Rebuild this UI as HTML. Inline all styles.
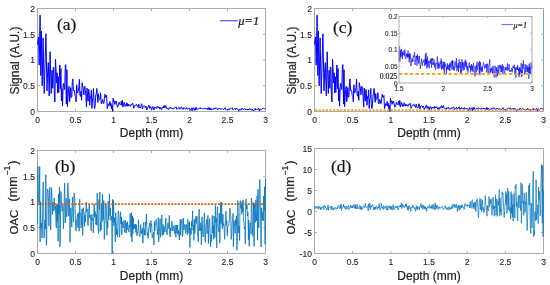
<!DOCTYPE html>
<html><head><meta charset="utf-8"><style>
html,body{margin:0;padding:0;background:#fff;}
body{width:550px;height:285px;overflow:hidden;}
svg{display:block;}
text{font-family:"Liberation Sans",Arial,sans-serif;fill:#222;stroke:#222;stroke-width:0.2px;}
text.serif{font-family:"Liberation Serif","Times New Roman",serif;}
text.pl{fill:#111;}
text.sm{stroke-width:0.1px;}
text.tk{stroke-width:0.1px;}
</style></head><body>
<svg width="550" height="285" viewBox="0 0 550 285">
<rect width="550" height="285" fill="#fff"/>
<path d="M37.5,111.5H265.5M37.5,8.5H265.5M37.5,8.5V111.5" stroke="#ababab" stroke-width="1" fill="none"/>
<path d="M265.5,8.5V111.5" stroke="#ababab" stroke-width="1" fill="none"/>
<path d="M37.50,111.5v-2.5M37.50,8.5v2.5M75.50,111.5v-2.5M75.50,8.5v2.5M113.50,111.5v-2.5M113.50,8.5v2.5M151.50,111.5v-2.5M151.50,8.5v2.5M189.50,111.5v-2.5M189.50,8.5v2.5M227.50,111.5v-2.5M227.50,8.5v2.5M265.50,111.5v-2.5M265.50,8.5v2.5M37.5,111.50h2.5M265.5,111.50h-2.5M37.5,85.75h2.5M265.5,85.75h-2.5M37.5,60.00h2.5M265.5,60.00h-2.5M37.5,34.25h2.5M265.5,34.25h-2.5M37.5,8.50h2.5M265.5,8.50h-2.5" stroke="#ababab" stroke-width="1" fill="none"/>
<text x="37.50" y="122.70" text-anchor="middle" font-size="8.5" class="tk">0</text>
<text x="75.50" y="122.70" text-anchor="middle" font-size="8.5" class="tk">0.5</text>
<text x="113.50" y="122.70" text-anchor="middle" font-size="8.5" class="tk">1</text>
<text x="151.50" y="122.70" text-anchor="middle" font-size="8.5" class="tk">1.5</text>
<text x="189.50" y="122.70" text-anchor="middle" font-size="8.5" class="tk">2</text>
<text x="227.50" y="122.70" text-anchor="middle" font-size="8.5" class="tk">2.5</text>
<text x="265.50" y="122.70" text-anchor="middle" font-size="8.5" class="tk">3</text>
<text x="34.90" y="114.90" text-anchor="end" font-size="8.5" class="tk">0</text>
<text x="34.90" y="89.15" text-anchor="end" font-size="8.5" class="tk">0.5</text>
<text x="34.90" y="63.40" text-anchor="end" font-size="8.5" class="tk">1</text>
<text x="34.90" y="37.65" text-anchor="end" font-size="8.5" class="tk">1.5</text>
<text x="34.90" y="11.90" text-anchor="end" font-size="8.5" class="tk">2</text>
<polyline points="37.5,44.5 38.5,36.8 39.2,65.2 40.1,15.2 40.8,75.5 41.4,31.2 42.2,85.8 43.1,37.9 44.2,93.5 45.0,65.2 45.9,33.7 47.0,90.9 47.6,72.9 48.3,62.6 49.2,96.0 50.1,51.8 51.2,93.5 52.0,70.3 52.8,88.3 53.3,67.2 53.8,67.3 54.4,95.3 54.9,101.9 55.5,59.0 56.0,69.3 56.5,82.9 57.1,72.8 57.6,93.1 58.2,76.7 58.7,92.4 59.3,78.5 59.8,65.0 60.4,88.6 60.9,68.5 61.4,100.8 62.0,88.5 62.5,106.0 63.1,86.0 63.6,83.4 64.2,88.2 64.7,89.5 65.3,65.2 65.8,64.6 66.3,104.1 66.9,69.7 67.4,106.6 68.0,97.3 68.5,89.8 69.1,86.3 69.6,101.7 70.1,97.6 70.7,87.6 71.2,97.4 71.8,96.9 72.3,81.5 72.9,78.9 73.4,90.6 74.0,90.0 74.5,90.7 75.0,95.5 75.6,96.3 76.1,101.8 76.7,84.8 77.2,92.4 77.8,93.1 78.3,90.1 78.9,87.2 79.4,79.3 79.9,95.0 80.5,96.3 81.0,91.2 81.6,100.3 82.1,82.7 82.7,86.0 83.2,88.1 83.8,94.8 84.3,88.3 84.8,86.2 85.4,90.6 85.9,96.7 86.5,107.1 87.0,88.1 87.6,97.6 88.1,101.2 88.7,89.3 89.2,93.3 89.7,105.3 90.3,96.6 90.8,97.8 91.4,89.9 91.9,108.4 92.5,99.0 93.0,97.6 93.5,88.4 94.1,103.5 94.6,108.6 95.2,105.3 95.7,96.1 96.3,93.2 96.8,88.4 97.4,95.9 97.9,102.4 98.4,93.7 99.0,98.5 99.5,99.6 100.1,98.7 100.6,92.7 101.2,103.3 101.7,104.0 102.3,99.6 102.8,99.7 103.3,103.2 103.9,103.6 104.4,98.2 105.0,94.2 105.5,97.1 106.1,97.4 106.6,95.4 107.2,108.5 107.7,106.7 108.2,103.7 108.8,105.6 109.3,105.0 109.9,101.4 110.4,106.2 111.0,103.4 111.5,108.8 112.0,105.4 112.6,111.5 113.1,98.1 113.7,101.8 114.2,100.8 114.8,104.4 115.3,101.4 115.9,102.5 116.4,101.2 116.9,105.0 117.5,107.3 118.0,106.2 118.6,105.0 119.1,102.2 119.7,104.2 120.2,104.8 120.8,104.3 121.3,101.1 121.8,105.4 122.4,100.3 122.9,107.1 123.5,105.6 124.0,102.3 124.6,103.1 125.1,106.4 125.7,104.7 126.2,106.2 126.7,102.7 127.3,103.5 127.8,106.3 128.4,104.0 128.9,105.7 129.5,105.1 130.0,104.9 130.6,106.3 131.1,104.3 131.6,104.3 132.2,104.4 132.7,103.2 133.3,105.9 133.8,108.3 134.4,106.4 134.9,105.2 135.4,105.6 136.0,104.6 136.5,104.3 137.1,106.0 137.6,106.0 138.2,107.6 138.7,104.2 139.3,106.5 139.8,107.9 140.3,108.0 140.9,106.9 141.4,103.7 142.0,105.0 142.5,109.0 143.1,106.6 143.6,106.0 144.2,105.5 144.7,106.0 145.2,107.5 145.8,106.0 146.3,107.5 146.9,110.0 147.4,107.8 148.0,107.8 148.5,105.4 149.1,105.3 149.6,108.3 150.1,106.5 150.7,106.7 151.2,108.8 151.8,109.7 152.3,107.0 152.9,106.6 153.4,107.7 153.9,110.1 154.5,106.9 155.0,107.7 155.6,108.1 156.1,107.4 156.7,108.5 157.2,106.3 157.8,107.0 158.3,107.9 158.8,106.8 159.4,107.2 159.9,109.2 160.5,107.5 161.0,107.9 161.6,109.6 162.1,108.2 162.7,106.9 163.2,108.2 163.7,105.8 164.3,105.5 164.8,107.9 165.4,106.9 165.9,105.5 166.5,108.1 167.0,108.8 167.6,108.3 168.1,109.4 168.6,109.4 169.2,107.6 169.7,108.4 170.3,107.7 170.8,107.4 171.4,108.8 171.9,108.2 172.4,108.3 173.0,108.8 173.5,109.0 174.1,107.7 174.6,108.2 175.2,107.8 175.7,107.1 176.3,107.1 176.8,109.4 177.3,109.1 177.9,108.5 178.4,108.1 179.0,107.3 179.5,109.3 180.1,108.7 180.6,108.0 181.2,107.0 181.7,106.9 182.2,109.4 182.8,108.6 183.3,109.2 183.9,107.5 184.4,108.0 185.0,108.8 185.5,109.1 186.1,108.2 186.6,107.5 187.1,109.3 187.7,108.8 188.2,108.4 188.8,108.5 189.3,108.2 189.9,109.5 190.4,109.2 191.0,110.6 191.5,108.6 192.0,107.6 192.6,110.6 193.1,109.2 193.7,107.8 194.2,108.8 194.8,110.5 195.3,107.6 195.8,110.0 196.4,107.4 196.9,109.3 197.5,109.4 198.0,108.7 198.6,108.8 199.1,108.2 199.7,108.3 200.2,108.9 200.7,107.6 201.3,108.1 201.8,108.5 202.4,108.7 202.9,108.9 203.5,108.9 204.0,108.2 204.6,108.4 205.1,108.8 205.6,107.9 206.2,109.1 206.7,108.5 207.3,108.1 207.8,109.9 208.4,109.2 208.9,107.4 209.5,109.8 210.0,107.9 210.5,109.9 211.1,108.6 211.6,109.9 212.2,109.5 212.7,109.3 213.3,109.5 213.8,108.1 214.3,108.3 214.9,108.3 215.4,108.9 216.0,107.6 216.5,108.2 217.1,108.8 217.6,110.0 218.2,108.5 218.7,108.5 219.2,109.0 219.8,108.5 220.3,108.5 220.9,109.4 221.4,108.7 222.0,108.9 222.5,108.9 223.1,109.5 223.6,109.6 224.1,109.1 224.7,108.0 225.2,107.7 225.8,109.5 226.3,110.1 226.9,109.5 227.4,109.9 228.0,109.6 228.5,108.9 229.0,110.0 229.6,108.8 230.1,108.6 230.7,108.0 231.2,107.8 231.8,108.5 232.3,107.8 232.9,109.7 233.4,109.1 233.9,109.2 234.5,109.0 235.0,108.5 235.6,109.6 236.1,108.0 236.7,108.3 237.2,109.1 237.7,109.0 238.3,110.1 238.8,111.1 239.4,109.4 239.9,109.1 240.5,109.2 241.0,110.3 241.6,109.7 242.1,108.0 242.6,108.8 243.2,108.9 243.7,109.7 244.3,108.8 244.8,108.4 245.4,108.8 245.9,109.8 246.5,109.2 247.0,110.1 247.5,109.7 248.1,109.0 248.6,109.9 249.2,109.6 249.7,108.4 250.3,109.6 250.8,108.9 251.4,109.7 251.9,110.4 252.4,109.5 253.0,109.8 253.5,111.0 254.1,110.4 254.6,109.8 255.2,108.4 255.7,110.0 256.2,109.6 256.8,109.1 257.3,109.3 257.9,109.8 258.4,108.3 259.0,108.6 259.5,111.1 260.1,108.9 260.6,109.2 261.1,108.9 261.7,109.5 262.2,109.0 262.8,108.3 263.3,108.3 263.9,108.3 264.4,108.8 265.0,108.9 265.5,108.9" fill="none" stroke="#0000ff" stroke-width="1.0" stroke-linejoin="round" />
<path d="M37.5,253.5H265.5M37.5,150.5H265.5M37.5,150.5V253.5" stroke="#ababab" stroke-width="1" fill="none"/>
<path d="M265.5,150.5V253.5" stroke="#ababab" stroke-width="1" fill="none"/>
<path d="M37.50,253.5v-2.5M37.50,150.5v2.5M75.50,253.5v-2.5M75.50,150.5v2.5M113.50,253.5v-2.5M113.50,150.5v2.5M151.50,253.5v-2.5M151.50,150.5v2.5M189.50,253.5v-2.5M189.50,150.5v2.5M227.50,253.5v-2.5M227.50,150.5v2.5M265.50,253.5v-2.5M265.50,150.5v2.5M37.5,253.50h2.5M265.5,253.50h-2.5M37.5,227.75h2.5M265.5,227.75h-2.5M37.5,202.00h2.5M265.5,202.00h-2.5M37.5,176.25h2.5M265.5,176.25h-2.5M37.5,150.50h2.5M265.5,150.50h-2.5" stroke="#ababab" stroke-width="1" fill="none"/>
<text x="37.50" y="264.70" text-anchor="middle" font-size="8.5" class="tk">0</text>
<text x="75.50" y="264.70" text-anchor="middle" font-size="8.5" class="tk">0.5</text>
<text x="113.50" y="264.70" text-anchor="middle" font-size="8.5" class="tk">1</text>
<text x="151.50" y="264.70" text-anchor="middle" font-size="8.5" class="tk">1.5</text>
<text x="189.50" y="264.70" text-anchor="middle" font-size="8.5" class="tk">2</text>
<text x="227.50" y="264.70" text-anchor="middle" font-size="8.5" class="tk">2.5</text>
<text x="265.50" y="264.70" text-anchor="middle" font-size="8.5" class="tk">3</text>
<text x="34.90" y="256.90" text-anchor="end" font-size="8.5" class="tk">0</text>
<text x="34.90" y="231.15" text-anchor="end" font-size="8.5" class="tk">0.5</text>
<text x="34.90" y="205.40" text-anchor="end" font-size="8.5" class="tk">1</text>
<text x="34.90" y="179.65" text-anchor="end" font-size="8.5" class="tk">1.5</text>
<text x="34.90" y="153.90" text-anchor="end" font-size="8.5" class="tk">2</text>
<polyline points="37.5,223.7 37.9,166.3 38.4,200.6 38.8,199.3 39.3,203.1 39.7,166.5 40.1,241.9 40.6,201.8 41.0,227.8 41.5,223.0 41.9,238.0 42.3,235.7 42.8,196.9 43.2,181.9 43.7,209.0 44.1,238.1 44.5,227.1 45.0,219.8 45.4,229.1 45.8,174.7 46.3,245.3 46.7,243.2 47.2,193.7 47.6,189.1 48.0,190.3 48.5,201.2 48.9,225.9 49.4,194.8 49.8,187.1 50.2,205.6 50.7,229.8 51.1,204.0 51.6,187.7 52.0,198.7 52.4,214.5 52.9,202.2 53.3,211.0 53.8,208.4 54.2,198.0 54.6,206.1 55.1,210.6 55.5,205.8 56.0,225.0 56.4,227.9 56.8,204.7 57.3,221.7 57.7,203.8 58.1,241.2 58.6,194.1 59.0,214.3 59.5,187.1 59.9,246.9 60.3,238.8 60.8,191.5 61.2,192.2 61.7,208.5 62.1,211.3 62.5,210.8 63.0,205.2 63.4,228.7 63.9,216.0 64.3,194.0 64.7,182.9 65.2,223.0 65.6,212.3 66.1,198.2 66.5,216.9 66.9,216.6 67.4,206.8 67.8,182.9 68.3,192.4 68.7,216.2 69.1,209.2 69.6,199.1 70.0,242.3 70.4,212.4 70.9,207.9 71.3,215.9 71.8,227.1 72.2,206.4 72.6,197.1 73.1,216.4 73.5,222.2 74.0,193.2 74.4,194.0 74.8,199.1 75.3,215.3 75.7,229.5 76.2,231.1 76.6,219.9 77.0,219.9 77.5,213.9 77.9,227.8 78.4,218.1 78.8,212.4 79.2,231.2 79.7,199.3 80.1,212.5 80.6,212.9 81.0,227.9 81.4,225.6 81.9,208.9 82.3,209.9 82.7,235.6 83.2,207.7 83.6,211.2 84.1,212.1 84.5,226.3 84.9,215.1 85.4,222.1 85.8,212.5 86.3,202.0 86.7,211.9 87.1,208.8 87.6,219.7 88.0,225.5 88.5,217.0 88.9,208.6 89.3,205.0 89.8,217.6 90.2,215.0 90.7,220.4 91.1,231.2 91.5,216.4 92.0,214.2 92.4,220.5 92.9,218.5 93.3,232.8 93.7,216.5 94.2,204.3 94.6,217.2 95.0,211.2 95.5,212.5 95.9,224.4 96.4,214.5 96.8,225.3 97.2,193.3 97.7,214.2 98.1,228.7 98.6,233.7 99.0,199.4 99.4,209.3 99.9,192.2 100.3,231.5 100.8,222.4 101.2,229.7 101.6,203.5 102.1,221.8 102.5,194.1 103.0,209.9 103.4,219.4 103.8,200.5 104.3,239.3 104.7,225.0 105.2,220.0 105.6,203.3 106.0,203.2 106.5,211.3 106.9,235.3 107.3,221.2 107.8,227.6 108.2,201.0 108.7,220.0 109.1,208.3 109.5,193.9 110.0,216.0 110.4,208.0 110.9,220.3 111.3,216.1 111.7,216.7 112.2,253.5 112.6,199.4 113.1,222.6 113.5,200.5 113.9,225.9 114.4,217.7 114.8,223.3 115.3,241.9 115.7,212.6 116.1,219.9 116.6,234.6 117.0,229.3 117.5,237.1 117.9,221.1 118.3,210.8 118.8,213.9 119.2,234.1 119.7,237.3 120.1,220.1 120.5,211.8 121.0,224.0 121.4,216.9 121.8,234.7 122.3,225.6 122.7,221.7 123.2,228.0 123.6,226.8 124.0,220.3 124.5,229.9 124.9,232.6 125.4,220.3 125.8,224.0 126.2,233.0 126.7,222.9 127.1,230.1 127.6,221.7 128.0,226.4 128.4,228.5 128.9,232.1 129.3,225.3 129.8,227.2 130.2,213.5 130.6,227.4 131.1,236.8 131.5,212.6 132.0,242.0 132.4,215.8 132.8,233.8 133.3,217.8 133.7,229.1 134.1,223.9 134.6,227.6 135.0,228.7 135.5,224.3 135.9,232.6 136.3,224.7 136.8,235.8 137.2,233.3 137.7,231.8 138.1,229.0 138.5,219.7 139.0,234.3 139.4,234.5 139.9,236.4 140.3,231.4 140.7,224.6 141.2,233.9 141.6,230.7 142.1,232.9 142.5,228.2 142.9,243.0 143.4,224.7 143.8,222.4 144.3,234.8 144.7,229.5 145.1,235.4 145.6,222.1 146.0,224.7 146.4,213.9 146.9,230.7 147.3,235.4 147.8,232.7 148.2,238.2 148.6,228.0 149.1,227.3 149.5,223.1 150.0,226.7 150.4,232.5 150.8,220.6 151.3,225.6 151.7,223.9 152.2,237.8 152.6,235.5 153.0,234.2 153.5,232.4 153.9,244.9 154.4,221.4 154.8,231.2 155.2,223.9 155.7,224.4 156.1,219.4 156.6,225.8 157.0,227.1 157.4,234.8 157.9,228.9 158.3,217.6 158.7,241.8 159.2,234.6 159.6,227.8 160.1,218.6 160.5,237.2 160.9,232.8 161.4,228.6 161.8,215.0 162.3,235.6 162.7,230.7 163.1,224.6 163.6,234.5 164.0,227.0 164.5,226.8 164.9,232.1 165.3,227.3 165.8,217.9 166.2,228.8 166.7,232.6 167.1,234.8 167.5,228.1 168.0,222.6 168.4,228.7 168.9,227.6 169.3,215.3 169.7,234.9 170.2,237.0 170.6,227.8 171.0,231.1 171.5,225.8 171.9,221.3 172.4,227.2 172.8,231.0 173.2,226.1 173.7,226.3 174.1,230.2 174.6,233.5 175.0,225.1 175.4,230.9 175.9,237.3 176.3,225.0 176.8,233.0 177.2,233.2 177.6,225.2 178.1,234.8 178.5,230.7 179.0,236.1 179.4,239.8 179.8,227.5 180.3,219.1 180.7,235.3 181.2,221.7 181.6,222.3 182.0,219.4 182.5,236.7 182.9,233.9 183.3,218.0 183.8,229.8 184.2,229.4 184.7,224.3 185.1,224.9 185.5,233.3 186.0,230.8 186.4,224.5 186.9,227.2 187.3,234.7 187.7,219.3 188.2,222.5 188.6,231.6 189.1,233.4 189.5,221.7 189.9,247.5 190.4,228.0 190.8,233.7 191.3,234.4 191.7,221.4 192.1,226.1 192.6,210.8 193.0,230.3 193.5,225.3 193.9,240.5 194.3,219.4 194.8,233.5 195.2,226.2 195.7,216.4 196.1,217.3 196.5,223.4 197.0,216.1 197.4,231.9 197.8,236.4 198.3,241.9 198.7,222.4 199.2,209.1 199.6,230.6 200.0,227.4 200.5,230.5 200.9,222.7 201.4,244.9 201.8,219.0 202.2,216.8 202.7,233.8 203.1,237.0 203.6,235.8 204.0,221.6 204.4,212.7 204.9,236.9 205.3,242.4 205.8,225.9 206.2,224.2 206.6,219.6 207.1,233.8 207.5,219.3 208.0,215.4 208.4,243.5 208.8,229.7 209.3,220.2 209.7,218.6 210.1,232.2 210.6,246.8 211.0,234.6 211.5,241.4 211.9,231.9 212.3,215.4 212.8,233.0 213.2,225.3 213.7,239.2 214.1,216.1 214.5,232.9 215.0,237.4 215.4,205.6 215.9,222.2 216.3,218.3 216.7,247.8 217.2,210.0 217.6,206.6 218.1,227.2 218.5,228.9 218.9,232.1 219.4,213.3 219.8,243.2 220.3,221.7 220.7,202.5 221.1,223.7 221.6,202.3 222.0,224.8 222.4,228.6 222.9,214.2 223.3,225.8 223.8,223.7 224.2,229.7 224.6,239.3 225.1,228.4 225.5,216.0 226.0,211.3 226.4,225.4 226.8,220.6 227.3,236.0 227.7,226.5 228.2,226.2 228.6,225.8 229.0,223.2 229.5,219.4 229.9,208.1 230.4,213.7 230.8,216.9 231.2,239.5 231.7,234.1 232.1,222.7 232.6,221.9 233.0,213.4 233.4,246.7 233.9,220.6 234.3,221.2 234.7,227.4 235.2,233.5 235.6,219.5 236.1,224.7 236.5,215.8 236.9,250.4 237.4,234.9 237.8,200.6 238.3,218.8 238.7,232.9 239.1,226.4 239.6,240.4 240.0,201.1 240.5,200.7 240.9,208.5 241.3,203.7 241.8,214.3 242.2,201.6 242.7,211.6 243.1,199.8 243.5,221.1 244.0,221.9 244.4,228.9 244.9,227.5 245.3,244.0 245.7,200.3 246.2,199.0 246.6,209.0 247.0,204.7 247.5,216.1 247.9,212.0 248.4,239.7 248.8,220.1 249.2,246.4 249.7,229.0 250.1,222.8 250.6,223.0 251.0,234.3 251.4,198.0 251.9,202.3 252.3,225.5 252.8,236.2 253.2,224.6 253.6,202.3 254.1,246.3 254.5,203.9 255.0,218.3 255.4,222.3 255.8,199.9 256.3,215.4 256.7,221.0 257.2,195.7 257.6,240.2 258.0,189.3 258.5,227.8 258.9,227.3 259.3,188.4 259.8,179.4 260.2,193.1 260.7,225.8 261.1,247.0 261.5,207.7 262.0,211.2 262.4,220.3 262.9,212.5 263.3,221.0 263.7,196.0 264.2,210.7 264.6,186.6 265.1,244.3 265.5,178.3" fill="none" stroke="#0072bd" stroke-width="0.8" stroke-linejoin="round" />
<line x1="38.0" x2="265.5" y1="204.2" y2="204.2" stroke="#c8601a" stroke-width="1.8" stroke-dasharray="2 1.33"/>
<path d="M314.5,111.5H543.5M314.5,8.5H543.5M314.5,8.5V111.5" stroke="#ababab" stroke-width="1" fill="none"/>
<path d="M543.5,8.5V111.5" stroke="#7f9fc0" stroke-width="1" fill="none"/>
<path d="M314.50,111.5v-2.5M314.50,8.5v2.5M352.67,111.5v-2.5M352.67,8.5v2.5M390.83,111.5v-2.5M390.83,8.5v2.5M429.00,111.5v-2.5M429.00,8.5v2.5M467.17,111.5v-2.5M467.17,8.5v2.5M505.33,111.5v-2.5M505.33,8.5v2.5M543.50,111.5v-2.5M543.50,8.5v2.5M314.5,111.50h2.5M543.5,111.50h-2.5M314.5,85.75h2.5M543.5,85.75h-2.5M314.5,60.00h2.5M543.5,60.00h-2.5M314.5,34.25h2.5M543.5,34.25h-2.5M314.5,8.50h2.5M543.5,8.50h-2.5" stroke="#ababab" stroke-width="1" fill="none"/>
<text x="314.50" y="122.70" text-anchor="middle" font-size="8.5" class="tk">0</text>
<text x="352.67" y="122.70" text-anchor="middle" font-size="8.5" class="tk">0.5</text>
<text x="390.83" y="122.70" text-anchor="middle" font-size="8.5" class="tk">1</text>
<text x="429.00" y="122.70" text-anchor="middle" font-size="8.5" class="tk">1.5</text>
<text x="467.17" y="122.70" text-anchor="middle" font-size="8.5" class="tk">2</text>
<text x="505.33" y="122.70" text-anchor="middle" font-size="8.5" class="tk">2.5</text>
<text x="543.50" y="122.70" text-anchor="middle" font-size="8.5" class="tk">3</text>
<text x="311.90" y="114.90" text-anchor="end" font-size="8.5" class="tk">0</text>
<text x="311.90" y="89.15" text-anchor="end" font-size="8.5" class="tk">0.5</text>
<text x="311.90" y="63.40" text-anchor="end" font-size="8.5" class="tk">1</text>
<text x="311.90" y="37.65" text-anchor="end" font-size="8.5" class="tk">1.5</text>
<text x="311.90" y="11.90" text-anchor="end" font-size="8.5" class="tk">2</text>
<polyline points="314.5,44.5 315.5,36.8 316.2,65.2 317.1,15.2 317.8,75.5 318.4,31.2 319.2,85.8 320.1,37.9 321.2,93.5 322.0,65.2 322.9,33.7 324.0,90.9 324.6,72.9 325.3,62.6 326.3,96.0 327.2,51.8 328.3,93.5 329.1,70.3 329.9,88.3 330.3,67.2 330.9,67.3 331.4,95.3 332.0,101.9 332.5,59.0 333.1,69.3 333.6,82.9 334.2,72.8 334.7,93.1 335.3,76.7 335.8,92.4 336.4,78.5 336.9,65.0 337.5,88.6 338.0,68.5 338.5,100.8 339.1,88.5 339.6,106.0 340.2,86.0 340.7,83.4 341.3,88.2 341.8,89.5 342.4,65.2 342.9,64.6 343.5,104.1 344.0,69.7 344.6,106.6 345.1,97.3 345.7,89.8 346.2,86.3 346.7,101.7 347.3,97.6 347.8,87.6 348.4,97.4 348.9,96.9 349.5,81.5 350.0,78.9 350.6,90.6 351.1,90.0 351.7,90.7 352.2,95.5 352.8,96.3 353.3,101.8 353.9,84.8 354.4,92.4 354.9,93.1 355.5,90.1 356.0,87.2 356.6,79.3 357.1,95.0 357.7,96.3 358.2,91.2 358.8,100.3 359.3,82.7 359.9,86.0 360.4,88.1 361.0,94.8 361.5,88.3 362.0,86.2 362.6,90.6 363.1,96.7 363.7,107.1 364.2,88.1 364.8,97.6 365.3,101.2 365.9,89.3 366.4,93.3 367.0,105.3 367.5,96.6 368.1,97.8 368.6,89.9 369.2,108.4 369.7,99.0 370.2,97.6 370.8,88.4 371.3,103.5 371.9,108.6 372.4,105.3 373.0,96.1 373.5,93.2 374.1,88.4 374.6,95.9 375.2,102.4 375.7,93.7 376.3,98.5 376.8,99.6 377.4,98.7 377.9,92.7 378.4,103.3 379.0,104.0 379.5,99.6 380.1,99.7 380.6,103.2 381.2,103.6 381.7,98.2 382.3,94.2 382.8,97.1 383.4,97.4 383.9,95.4 384.5,108.5 385.0,106.7 385.6,103.7 386.1,105.6 386.6,105.0 387.2,101.4 387.7,106.2 388.3,103.4 388.8,108.8 389.4,105.4 389.9,111.5 390.5,98.1 391.0,101.8 391.6,100.8 392.1,104.4 392.7,101.4 393.2,102.5 393.7,101.2 394.3,105.0 394.8,107.3 395.4,106.2 395.9,105.0 396.5,102.2 397.0,104.2 397.6,104.8 398.1,104.3 398.7,101.1 399.2,105.4 399.8,100.3 400.3,107.1 400.9,105.6 401.4,102.3 401.9,103.1 402.5,106.4 403.0,104.7 403.6,106.2 404.1,102.7 404.7,103.5 405.2,106.3 405.8,104.0 406.3,105.7 406.9,105.1 407.4,104.9 408.0,106.3 408.5,104.3 409.1,104.3 409.6,104.4 410.1,103.2 410.7,105.9 411.2,108.3 411.8,106.4 412.3,105.2 412.9,105.6 413.4,104.6 414.0,104.3 414.5,106.0 415.1,106.0 415.6,107.6 416.2,104.2 416.7,106.5 417.2,107.9 417.8,108.0 418.3,106.9 418.9,103.7 419.4,105.0 420.0,109.0 420.5,106.6 421.1,106.0 421.6,105.5 422.2,106.0 422.7,107.5 423.3,106.0 423.8,107.5 424.4,110.0 424.9,107.8 425.4,107.8 426.0,105.4 426.5,105.3 427.1,108.3 427.6,106.5 428.2,106.7 428.7,108.8 429.3,109.7 429.8,107.0 430.4,106.6 430.9,107.7 431.5,110.1 432.0,106.9 432.6,107.7 433.1,108.1 433.6,107.4 434.2,108.5 434.7,106.3 435.3,107.0 435.8,107.9 436.4,106.8 436.9,107.2 437.5,109.2 438.0,107.5 438.6,107.9 439.1,109.6 439.7,108.2 440.2,106.9 440.8,108.2 441.3,105.8 441.8,105.5 442.4,107.9 442.9,106.9 443.5,105.5 444.0,108.1 444.6,108.8 445.1,108.3 445.7,109.4 446.2,109.4 446.8,107.6 447.3,108.4 447.9,107.7 448.4,107.4 448.9,108.8 449.5,108.2 450.0,108.3 450.6,108.8 451.1,109.0 451.7,107.7 452.2,108.2 452.8,107.8 453.3,107.1 453.9,107.1 454.4,109.4 455.0,109.1 455.5,108.5 456.1,108.1 456.6,107.3 457.1,109.3 457.7,108.7 458.2,108.0 458.8,107.0 459.3,106.9 459.9,109.4 460.4,108.6 461.0,109.2 461.5,107.5 462.1,108.0 462.6,108.8 463.2,109.1 463.7,108.2 464.3,107.5 464.8,109.3 465.3,108.8 465.9,108.4 466.4,108.5 467.0,108.2 467.5,109.5 468.1,109.2 468.6,110.6 469.2,108.6 469.7,107.6 470.3,110.6 470.8,109.2 471.4,107.8 471.9,108.8 472.4,110.5 473.0,107.6 473.5,110.0 474.1,107.4 474.6,109.3 475.2,109.4 475.7,108.7 476.3,108.8 476.8,108.2 477.4,108.3 477.9,108.9 478.5,107.6 479.0,108.1 479.6,108.5 480.1,108.7 480.6,108.9 481.2,108.9 481.7,108.2 482.3,108.4 482.8,108.8 483.4,107.9 483.9,109.1 484.5,108.5 485.0,108.1 485.6,109.9 486.1,109.2 486.7,107.4 487.2,109.8 487.8,107.9 488.3,109.9 488.8,108.6 489.4,109.9 489.9,109.5 490.5,109.3 491.0,109.5 491.6,108.1 492.1,108.3 492.7,108.3 493.2,108.9 493.8,107.6 494.3,108.2 494.9,108.8 495.4,110.0 496.0,108.5 496.5,108.5 497.0,109.0 497.6,108.5 498.1,108.5 498.7,109.4 499.2,108.7 499.8,108.9 500.3,108.9 500.9,109.5 501.4,109.6 502.0,109.1 502.5,108.0 503.1,107.7 503.6,109.5 504.1,110.1 504.7,109.5 505.2,109.9 505.8,109.6 506.3,108.9 506.9,110.0 507.4,108.8 508.0,108.6 508.5,108.0 509.1,107.8 509.6,108.5 510.2,107.8 510.7,109.7 511.3,109.1 511.8,109.2 512.3,109.0 512.9,108.5 513.4,109.6 514.0,108.0 514.5,108.3 515.1,109.1 515.6,109.0 516.2,110.1 516.7,111.1 517.3,109.4 517.8,109.1 518.4,109.2 518.9,110.3 519.5,109.7 520.0,108.0 520.5,108.8 521.1,108.9 521.6,109.7 522.2,108.8 522.7,108.4 523.3,108.8 523.8,109.8 524.4,109.2 524.9,110.1 525.5,109.7 526.0,109.0 526.6,109.9 527.1,109.6 527.7,108.4 528.2,109.6 528.7,108.9 529.3,109.7 529.8,110.4 530.4,109.5 530.9,109.8 531.5,111.0 532.0,110.4 532.6,109.8 533.1,108.4 533.7,110.0 534.2,109.6 534.8,109.1 535.3,109.3 535.8,109.8 536.4,108.3 536.9,108.6 537.5,111.1 538.0,108.9 538.6,109.2 539.1,108.9 539.7,109.5 540.2,109.0 540.8,108.3 541.3,108.3 541.9,108.3 542.4,108.8 543.0,108.9 543.5,108.9" fill="none" stroke="#0000ff" stroke-width="1.0" stroke-linejoin="round" />
<line x1="315.0" x2="543.5" y1="110.1" y2="110.1" stroke="#f2a82e" stroke-width="1.8" stroke-dasharray="2.2 1.4"/>
<path d="M314.5,253.5H543.5M314.5,148.5H543.5M314.5,148.5V253.5" stroke="#ababab" stroke-width="1" fill="none"/>
<path d="M543.5,148.5V253.5" stroke="#ababab" stroke-width="1" fill="none"/>
<path d="M314.50,253.5v-2.5M314.50,148.5v2.5M352.67,253.5v-2.5M352.67,148.5v2.5M390.83,253.5v-2.5M390.83,148.5v2.5M429.00,253.5v-2.5M429.00,148.5v2.5M467.17,253.5v-2.5M467.17,148.5v2.5M505.33,253.5v-2.5M505.33,148.5v2.5M543.50,253.5v-2.5M543.50,148.5v2.5M314.5,253.50h2.5M543.5,253.50h-2.5M314.5,232.50h2.5M543.5,232.50h-2.5M314.5,211.50h2.5M543.5,211.50h-2.5M314.5,190.50h2.5M543.5,190.50h-2.5M314.5,169.50h2.5M543.5,169.50h-2.5M314.5,148.50h2.5M543.5,148.50h-2.5" stroke="#ababab" stroke-width="1" fill="none"/>
<text x="314.50" y="264.70" text-anchor="middle" font-size="8.5" class="tk">0</text>
<text x="352.67" y="264.70" text-anchor="middle" font-size="8.5" class="tk">0.5</text>
<text x="390.83" y="264.70" text-anchor="middle" font-size="8.5" class="tk">1</text>
<text x="429.00" y="264.70" text-anchor="middle" font-size="8.5" class="tk">1.5</text>
<text x="467.17" y="264.70" text-anchor="middle" font-size="8.5" class="tk">2</text>
<text x="505.33" y="264.70" text-anchor="middle" font-size="8.5" class="tk">2.5</text>
<text x="543.50" y="264.70" text-anchor="middle" font-size="8.5" class="tk">3</text>
<text x="311.90" y="256.90" text-anchor="end" font-size="8.5" class="tk">-10</text>
<text x="311.90" y="235.90" text-anchor="end" font-size="8.5" class="tk">-5</text>
<text x="311.90" y="214.90" text-anchor="end" font-size="8.5" class="tk">0</text>
<text x="311.90" y="193.90" text-anchor="end" font-size="8.5" class="tk">5</text>
<text x="311.90" y="172.90" text-anchor="end" font-size="8.5" class="tk">10</text>
<text x="311.90" y="151.90" text-anchor="end" font-size="8.5" class="tk">15</text>
<polyline points="314.5,206.9 314.9,206.1 315.3,207.9 315.7,208.7 316.1,206.4 316.5,207.6 317.0,207.0 317.4,206.5 317.8,207.0 318.2,209.3 318.6,206.3 319.0,207.9 319.4,207.5 319.8,206.5 320.2,209.4 320.6,207.6 321.1,209.9 321.5,208.0 321.9,206.7 322.3,207.4 322.7,207.6 323.1,206.3 323.5,207.8 323.9,209.7 324.3,205.6 324.7,206.9 325.2,206.1 325.6,207.9 326.0,207.9 326.4,208.4 326.8,210.2 327.2,208.0 327.6,208.2 328.0,204.9 328.4,210.2 328.8,207.3 329.2,207.6 329.7,207.5 330.1,207.6 330.5,207.0 330.9,206.1 331.3,209.9 331.7,206.1 332.1,207.8 332.5,208.9 332.9,210.2 333.3,210.2 333.8,207.5 334.2,209.1 334.6,209.1 335.0,208.2 335.4,207.4 335.8,208.1 336.2,209.2 336.6,208.4 337.0,207.7 337.4,209.0 337.9,206.0 338.3,205.4 338.7,205.4 339.1,207.9 339.5,207.9 339.9,208.8 340.3,205.2 340.7,208.1 341.1,204.0 341.5,210.5 341.9,207.0 342.4,206.6 342.8,207.3 343.2,206.4 343.6,204.3 344.0,207.4 344.4,206.1 344.8,208.0 345.2,209.3 345.6,209.0 346.0,206.0 346.5,206.8 346.9,209.5 347.3,206.8 347.7,206.4 348.1,206.5 348.5,205.5 348.9,209.5 349.3,208.7 349.7,208.9 350.1,207.0 350.6,205.2 351.0,207.9 351.4,206.7 351.8,205.9 352.2,208.0 352.6,206.0 353.0,207.4 353.4,204.5 353.8,205.1 354.2,207.9 354.6,208.1 355.1,204.3 355.5,208.6 355.9,205.4 356.3,207.8 356.7,209.0 357.1,204.5 357.5,206.5 357.9,208.8 358.3,207.6 358.7,208.3 359.2,208.7 359.6,207.4 360.0,205.5 360.4,209.4 360.8,206.4 361.2,209.5 361.6,207.3 362.0,209.5 362.4,209.3 362.8,208.3 363.2,205.7 363.7,205.9 364.1,207.4 364.5,207.7 364.9,207.0 365.3,203.1 365.7,206.7 366.1,207.4 366.5,208.0 366.9,207.7 367.3,206.3 367.8,206.3 368.2,211.0 368.6,203.9 369.0,206.5 369.4,207.4 369.8,203.1 370.2,209.7 370.6,209.2 371.0,205.5 371.4,207.2 371.9,205.8 372.3,205.3 372.7,204.3 373.1,206.2 373.5,208.2 373.9,209.9 374.3,207.0 374.7,210.0 375.1,207.1 375.5,208.5 375.9,206.6 376.4,206.1 376.8,207.3 377.2,209.4 377.6,207.0 378.0,208.4 378.4,206.7 378.8,207.9 379.2,203.5 379.6,208.1 380.0,210.3 380.5,208.7 380.9,207.1 381.3,203.0 381.7,205.0 382.1,208.2 382.5,207.2 382.9,209.1 383.3,209.6 383.7,205.7 384.1,206.5 384.6,208.4 385.0,208.4 385.4,206.5 385.8,206.1 386.2,208.5 386.6,210.0 387.0,205.8 387.4,208.4 387.8,210.2 388.2,207.5 388.6,206.9 389.1,205.7 389.5,207.9 389.9,206.8 390.3,209.3 390.7,206.4 391.1,209.7 391.5,206.2 391.9,206.9 392.3,209.7 392.7,208.2 393.2,204.5 393.6,208.9 394.0,209.9 394.4,207.7 394.8,206.9 395.2,205.9 395.6,207.4 396.0,208.0 396.4,207.6 396.8,205.9 397.3,207.5 397.7,206.3 398.1,210.1 398.5,207.8 398.9,207.3 399.3,205.5 399.7,206.4 400.1,206.8 400.5,205.4 400.9,206.9 401.3,202.9 401.8,208.7 402.2,207.0 402.6,204.2 403.0,205.9 403.4,206.7 403.8,205.5 404.2,207.9 404.6,207.0 405.0,206.9 405.4,204.0 405.9,206.6 406.3,203.7 406.7,207.2 407.1,206.7 407.5,209.9 407.9,206.1 408.3,210.4 408.7,206.0 409.1,205.5 409.5,206.5 410.0,208.9 410.4,207.6 410.8,211.4 411.2,208.3 411.6,206.8 412.0,207.1 412.4,207.8 412.8,205.0 413.2,206.6 413.6,207.2 414.0,206.8 414.5,208.9 414.9,207.5 415.3,210.4 415.7,211.4 416.1,207.8 416.5,205.7 416.9,209.0 417.3,206.5 417.7,210.1 418.1,207.2 418.6,207.2 419.0,207.2 419.4,209.6 419.8,206.3 420.2,206.0 420.6,206.3 421.0,203.4 421.4,207.8 421.8,206.8 422.2,205.1 422.7,209.4 423.1,208.7 423.5,205.3 423.9,207.7 424.3,208.5 424.7,206.3 425.1,209.4 425.5,206.9 425.9,208.9 426.3,208.2 426.7,211.4 427.2,206.8 427.6,206.7 428.0,207.4 428.4,208.2 428.8,206.7 429.2,204.7 429.6,205.7 430.0,208.3 430.4,206.7 430.8,207.5 431.3,206.2 431.7,208.5 432.1,204.6 432.5,208.4 432.9,208.8 433.3,206.5 433.7,204.3 434.1,209.9 434.5,207.0 434.9,206.0 435.3,202.8 435.8,209.6 436.2,205.2 436.6,208.3 437.0,207.6 437.4,205.5 437.8,207.0 438.2,209.4 438.6,207.4 439.0,207.7 439.4,206.8 439.9,208.7 440.3,208.3 440.7,207.7 441.1,207.1 441.5,207.4 441.9,206.4 442.3,206.0 442.7,206.6 443.1,208.2 443.5,209.7 444.0,208.6 444.4,208.3 444.8,207.6 445.2,205.6 445.6,207.3 446.0,208.8 446.4,209.5 446.8,207.4 447.2,207.6 447.6,209.1 448.0,210.1 448.5,207.8 448.9,206.5 449.3,206.8 449.7,209.9 450.1,208.0 450.5,207.6 450.9,209.0 451.3,207.4 451.7,208.4 452.1,205.5 452.6,208.5 453.0,204.1 453.4,205.2 453.8,206.4 454.2,206.6 454.6,204.3 455.0,207.7 455.4,206.2 455.8,207.4 456.2,204.0 456.7,207.7 457.1,207.5 457.5,211.8 457.9,206.0 458.3,207.7 458.7,205.2 459.1,210.4 459.5,207.8 459.9,205.3 460.3,209.2 460.7,207.2 461.2,205.2 461.6,208.0 462.0,204.9 462.4,204.9 462.8,207.4 463.2,207.5 463.6,207.2 464.0,209.5 464.4,209.1 464.8,203.6 465.3,205.7 465.7,205.9 466.1,205.4 466.5,205.5 466.9,204.5 467.3,206.9 467.7,205.3 468.1,205.9 468.5,205.1 468.9,206.0 469.4,205.2 469.8,207.9 470.2,201.5 470.6,205.3 471.0,208.3 471.4,205.0 471.8,200.8 472.2,199.7 472.6,200.8 473.0,208.6 473.4,203.4 473.9,206.8 474.3,202.2 474.7,208.8 475.1,209.6 475.5,202.3 475.9,211.4 476.3,203.7 476.7,199.8 477.1,199.6 477.5,199.2 478.0,210.0 478.4,217.8 478.8,212.4 479.2,201.4 479.6,201.3 480.0,198.5 480.4,209.7 480.8,200.3 481.2,199.1 481.6,211.7 482.1,205.6 482.5,200.3 482.9,210.2 483.3,207.4 483.7,212.6 484.1,212.4 484.5,212.1 484.9,205.7 485.3,195.4 485.7,204.4 486.1,205.3 486.6,210.5 487.0,216.2 487.4,205.7 487.8,210.1 488.2,210.6 488.6,211.0 489.0,196.4 489.4,206.9 489.8,205.5 490.2,199.5 490.7,203.3 491.1,198.8 491.5,202.4 491.9,215.4 492.3,211.9 492.7,203.3 493.1,197.1 493.5,209.0 493.9,205.9 494.3,216.3 494.8,206.6 495.2,207.9 495.6,194.7 496.0,215.3 496.4,210.1 496.8,198.9 497.2,216.4 497.6,213.2 498.0,200.7 498.4,205.2 498.8,200.5 499.3,189.4 499.7,216.2 500.1,198.2 500.5,211.8 500.9,208.8 501.3,215.2 501.7,209.5 502.1,191.7 502.5,194.7 502.9,193.4 503.4,201.9 503.8,211.3 504.2,217.6 504.6,210.7 505.0,204.0 505.4,203.6 505.8,191.5 506.2,204.9 506.6,193.9 507.0,213.3 507.4,188.7 507.9,188.0 508.3,209.8 508.7,191.4 509.1,198.9 509.5,210.8 509.9,211.3 510.3,207.5 510.7,219.1 511.1,191.6 511.5,213.3 512.0,194.6 512.4,216.9 512.8,204.4 513.2,221.2 513.6,202.0 514.0,193.3 514.4,202.4 514.8,218.1 515.2,186.0 515.6,188.0 516.1,184.1 516.5,206.8 516.9,202.4 517.3,217.3 517.7,220.8 518.1,197.5 518.5,195.4 518.9,208.0 519.3,196.2 519.7,195.2 520.1,203.8 520.6,210.5 521.0,182.6 521.4,223.2 521.8,211.0 522.2,184.4 522.6,195.2 523.0,203.4 523.4,200.9 523.8,215.5 524.2,192.9 524.7,199.4 525.1,212.5 525.5,202.2 525.9,204.3 526.3,192.2 526.7,219.2 527.1,230.5 527.5,225.4 527.9,206.8 528.3,198.3 528.8,185.3 529.2,205.1 529.6,183.1 530.0,207.4 530.4,229.7 530.8,233.5 531.2,203.0 531.6,212.4 532.0,227.9 532.4,216.8 532.8,183.4 533.3,171.2 533.7,236.5 534.1,230.8 534.5,234.8 534.9,211.6 535.3,217.4 535.7,220.6 536.1,179.6 536.5,219.8 536.9,213.9 537.4,213.7 537.8,204.7 538.2,223.6 538.6,187.1 539.0,199.4 539.4,191.4 539.8,205.4 540.2,215.9 540.6,208.4 541.0,181.1 541.5,164.5 541.9,181.1 542.3,223.3 542.7,165.3 543.1,236.7 543.5,190.5" fill="none" stroke="#0072bd" stroke-width="0.7" stroke-linejoin="round" />
<rect x="399.0" y="16.5" width="133.0" height="66.5" fill="#fff"/>
<polyline points="399.0,61.4 399.3,51.2 399.6,46.4 399.9,61.5 400.2,49.8 400.6,57.6 400.9,50.6 401.2,51.2 401.5,49.0 401.8,56.4 402.1,51.5 402.4,59.1 402.7,52.6 403.0,54.9 403.3,53.3 403.7,54.4 404.0,50.5 404.3,56.1 404.6,55.6 404.9,49.6 405.2,55.5 405.5,57.5 405.8,59.2 406.1,55.7 406.4,56.1 406.8,53.6 407.1,57.0 407.4,53.8 407.7,57.7 408.0,50.5 408.3,57.1 408.6,54.3 408.9,55.6 409.2,62.4 409.5,53.2 409.9,59.0 410.2,53.8 410.5,65.5 410.8,65.0 411.1,65.7 411.4,65.0 411.7,59.5 412.0,58.2 412.3,62.0 412.6,59.6 413.0,61.1 413.3,55.5 413.6,55.8 413.9,57.5 414.2,56.2 414.5,52.1 414.8,56.4 415.1,65.0 415.4,60.0 415.7,60.4 416.1,56.1 416.4,57.5 416.7,56.1 417.0,65.7 417.3,54.2 417.6,60.4 417.9,56.1 418.2,58.1 418.5,63.6 418.8,63.4 419.2,57.9 419.5,55.9 419.8,64.1 420.1,65.1 420.4,68.8 420.7,64.5 421.0,63.8 421.3,62.2 421.6,58.7 421.9,63.1 422.3,65.6 422.6,62.8 422.9,61.6 423.2,60.8 423.5,60.9 423.8,62.2 424.1,59.4 424.4,62.8 424.7,65.8 425.0,62.4 425.4,54.5 425.7,65.1 426.0,52.7 426.3,64.0 426.6,59.2 426.9,68.4 427.2,62.5 427.5,56.5 427.8,66.9 428.1,65.2 428.5,61.1 428.8,61.0 429.1,68.3 429.4,67.5 429.7,61.5 430.0,61.5 430.3,59.8 430.6,63.4 430.9,60.3 431.2,58.1 431.6,67.7 431.9,59.0 432.2,60.1 432.5,58.0 432.8,64.7 433.1,63.3 433.4,62.9 433.7,65.2 434.0,59.4 434.3,62.5 434.7,67.4 435.0,62.5 435.3,67.7 435.6,69.8 435.9,67.8 436.2,63.7 436.5,63.3 436.8,64.3 437.1,61.8 437.4,56.4 437.8,68.4 438.1,62.4 438.4,63.1 438.7,68.8 439.0,66.2 439.3,63.5 439.6,64.2 439.9,67.7 440.2,61.5 440.5,63.6 440.9,62.1 441.2,58.4 441.5,69.6 441.8,60.9 442.1,63.0 442.4,68.3 442.7,65.1 443.0,66.6 443.3,69.6 443.6,61.9 444.0,68.1 444.3,73.0 444.6,61.9 444.9,67.0 445.2,63.7 445.5,64.4 445.8,66.4 446.1,66.7 446.4,74.4 446.7,66.9 447.1,69.7 447.4,63.4 447.7,68.4 448.0,67.9 448.3,65.0 448.6,69.9 448.9,68.2 449.2,67.3 449.5,63.9 449.8,71.1 450.2,62.5 450.5,66.1 450.8,67.5 451.1,64.2 451.4,61.7 451.7,61.2 452.0,69.7 452.3,60.4 452.6,65.5 452.9,60.6 453.3,69.8 453.6,66.4 453.9,66.2 454.2,70.7 454.5,67.6 454.8,62.3 455.1,61.5 455.4,63.3 455.7,64.8 456.0,67.6 456.4,58.0 456.7,71.2 457.0,70.7 457.3,69.0 457.6,65.4 457.9,67.9 458.2,63.1 458.5,72.2 458.8,62.9 459.1,59.3 459.5,62.8 459.8,67.4 460.1,68.6 460.4,62.0 460.7,72.9 461.0,69.4 461.3,72.8 461.6,66.9 461.9,59.2 462.2,68.1 462.6,62.2 462.9,70.6 463.2,68.6 463.5,68.7 463.8,62.4 464.1,69.9 464.4,69.1 464.7,66.5 465.0,60.6 465.3,66.4 465.7,59.7 466.0,65.1 466.3,67.6 466.6,62.2 466.9,69.0 467.2,70.3 467.5,66.3 467.8,72.7 468.1,71.4 468.4,69.9 468.8,66.7 469.1,62.8 469.4,62.4 469.7,67.6 470.0,66.0 470.3,68.1 470.6,72.4 470.9,65.4 471.2,69.8 471.5,64.1 471.9,69.1 472.2,71.0 472.5,65.8 472.8,69.2 473.1,72.2 473.4,63.1 473.7,65.9 474.0,66.0 474.3,66.9 474.6,69.4 475.0,76.4 475.3,69.4 475.6,69.0 475.9,65.7 476.2,72.4 476.5,65.5 476.8,67.3 477.1,61.7 477.4,70.2 477.7,67.4 478.1,66.5 478.4,65.2 478.7,62.5 479.0,65.7 479.3,73.0 479.6,61.1 479.9,75.3 480.2,65.1 480.5,62.5 480.8,70.3 481.2,67.8 481.5,67.9 481.8,72.0 482.1,66.2 482.4,71.4 482.7,66.5 483.0,65.4 483.3,63.5 483.6,62.5 483.9,66.1 484.3,65.9 484.6,68.7 484.9,68.1 485.2,64.4 485.5,64.9 485.8,66.1 486.1,68.0 486.4,63.9 486.7,72.3 487.0,70.0 487.4,67.1 487.7,63.6 488.0,72.8 488.3,72.2 488.6,72.8 488.9,65.2 489.2,65.0 489.5,62.1 489.8,59.3 490.1,72.8 490.5,68.8 490.8,70.3 491.1,72.4 491.4,68.0 491.7,70.3 492.0,67.6 492.3,69.6 492.6,73.8 492.9,65.9 493.2,66.0 493.6,69.9 493.9,76.7 494.2,77.3 494.5,73.6 494.8,66.9 495.1,65.7 495.4,68.1 495.7,68.1 496.0,77.5 496.3,67.0 496.7,71.1 497.0,69.5 497.3,72.2 497.6,76.2 497.9,65.5 498.2,67.0 498.5,72.6 498.8,74.5 499.1,71.0 499.4,65.2 499.8,66.4 500.1,68.4 500.4,65.0 500.7,67.3 501.0,72.3 501.3,66.1 501.6,68.9 501.9,71.9 502.2,64.2 502.5,67.0 502.9,74.3 503.2,65.7 503.5,67.9 503.8,70.1 504.1,70.5 504.4,72.7 504.7,74.4 505.0,67.7 505.3,66.9 505.6,70.1 506.0,67.8 506.3,70.3 506.6,70.2 506.9,66.9 507.2,66.9 507.5,63.4 507.8,70.7 508.1,67.5 508.4,69.5 508.7,68.0 509.1,64.1 509.4,67.4 509.7,71.9 510.0,70.7 510.3,71.2 510.6,70.0 510.9,71.5 511.2,70.9 511.5,69.7 511.8,67.8 512.2,72.3 512.5,68.8 512.8,68.9 513.1,65.8 513.4,68.1 513.7,67.1 514.0,68.0 514.3,64.7 514.6,69.6 514.9,74.9 515.3,67.8 515.6,72.9 515.9,77.7 516.2,67.4 516.5,69.4 516.8,68.5 517.1,67.5 517.4,70.0 517.7,65.2 518.0,69.1 518.4,70.5 518.7,69.2 519.0,77.1 519.3,67.4 519.6,75.0 519.9,67.9 520.2,69.9 520.5,69.2 520.8,72.5 521.1,63.1 521.5,77.2 521.8,70.0 522.1,72.9 522.4,75.6 522.7,64.1 523.0,68.8 523.3,60.3 523.6,66.6 523.9,67.7 524.2,67.4 524.6,74.5 524.9,74.6 525.2,64.2 525.5,66.5 525.8,72.4 526.1,69.2 526.4,69.0 526.7,65.0 527.0,68.3 527.3,72.2 527.7,66.5 528.0,71.6 528.3,67.5 528.6,71.8 528.9,78.8 529.2,63.5 529.5,73.2 529.8,65.9 530.1,67.3 530.4,71.7 530.8,74.1 531.1,62.4 531.4,68.8 531.7,64.8 532.0,68.4" fill="none" stroke="#0000ff" stroke-width="0.6" stroke-linejoin="round" />
<line x1="399.0" x2="532.0" y1="74.0" y2="74.0" stroke="#f2a82e" stroke-width="1.8" stroke-dasharray="3.3 2.2"/>
<path d="M399.0,83.0H532.0M399.0,16.5H532.0M399.0,16.5V83.0" stroke="#ababab" stroke-width="1" fill="none"/>
<path d="M532.0,16.5V83.0" stroke="#ababab" stroke-width="1" fill="none"/>
<path d="M399.00,83.0v-1.5M399.00,16.5v1.5M443.33,83.0v-1.5M443.33,16.5v1.5M487.67,83.0v-1.5M487.67,16.5v1.5M532.00,83.0v-1.5M532.00,16.5v1.5M399.0,83.00h1.5M532.0,83.00h-1.5M399.0,66.38h1.5M532.0,66.38h-1.5M399.0,49.75h1.5M532.0,49.75h-1.5M399.0,33.13h1.5M532.0,33.13h-1.5M399.0,16.50h1.5M532.0,16.50h-1.5" stroke="#ababab" stroke-width="1" fill="none"/>
<text x="399.00" y="90.60" text-anchor="middle" font-size="6.4" class="sm">1.5</text>
<text x="443.33" y="90.60" text-anchor="middle" font-size="6.4" class="sm">2</text>
<text x="487.67" y="90.60" text-anchor="middle" font-size="6.4" class="sm">2.5</text>
<text x="532.00" y="90.60" text-anchor="middle" font-size="6.4" class="sm">3</text>
<text x="397.50" y="85.56" text-anchor="end" font-size="6.4" class="sm">0</text>
<text x="397.50" y="68.94" text-anchor="end" font-size="6.4" class="sm">0.05</text>
<text x="397.50" y="52.31" text-anchor="end" font-size="6.4" class="sm">0.1</text>
<text x="397.50" y="35.69" text-anchor="end" font-size="6.4" class="sm">0.15</text>
<text x="397.50" y="19.06" text-anchor="end" font-size="6.4" class="sm">0.2</text>
<text x="397.2" y="78.5" text-anchor="end" font-size="7.8" class="serif">0.025</text>
<text x="57" y="30.2" font-size="17.5" class="serif pl" >(a)</text>
<text x="55" y="172.2" font-size="17.5" class="serif pl" >(b)</text>
<text x="333" y="33.2" font-size="17.5" class="serif pl" >(c)</text>
<text x="331" y="172.2" font-size="17.5" class="serif pl" >(d)</text>
<line x1="220" x2="238" y1="20.7" y2="20.7" stroke="#6c6cf4" stroke-width="1.4"/>
<text x="238.3" y="25.2" font-size="12.5" font-style="italic" class="serif">μ=1</text>
<line x1="501.5" x2="513" y1="24.5" y2="24.5" stroke="#6c6cf4" stroke-width="1.1"/>
<text x="513.6" y="27.6" font-size="8" font-style="italic" class="serif">μ=1</text>
<text x="151.5" y="137.3" text-anchor="middle" font-size="12">Depth (mm)</text>
<text x="151.5" y="279.7" text-anchor="middle" font-size="12">Depth (mm)</text>
<text x="429.0" y="137.3" text-anchor="middle" font-size="12">Depth (mm)</text>
<text x="429.0" y="279.7" text-anchor="middle" font-size="12">Depth (mm)</text>
<text transform="translate(18.5,60.6) rotate(-90)" text-anchor="middle" font-size="12" xml:space="preserve">Signal (A.U.)</text>
<text transform="translate(296,60.6) rotate(-90)" text-anchor="middle" font-size="12" xml:space="preserve">Signal (A.U.)</text>
<text transform="translate(17.70,234.60) rotate(-90)" text-anchor="start" font-size="11.5">OAC</text>
<text transform="translate(16.50,201.40) rotate(-90)" text-anchor="start" font-size="12.5">(mm</text>
<text transform="translate(9.80,175.60) rotate(-90)" text-anchor="start" font-size="8.6">−1</text>
<text transform="translate(16.50,160.60) rotate(-90)" text-anchor="end" font-size="12.5">)</text>
<text transform="translate(295.40,234.60) rotate(-90)" text-anchor="start" font-size="11.5">OAC</text>
<text transform="translate(294.20,201.40) rotate(-90)" text-anchor="start" font-size="12.5">(mm</text>
<text transform="translate(287.50,175.60) rotate(-90)" text-anchor="start" font-size="8.6">−1</text>
<text transform="translate(294.20,160.60) rotate(-90)" text-anchor="end" font-size="12.5">)</text>
</svg>
</body></html>
